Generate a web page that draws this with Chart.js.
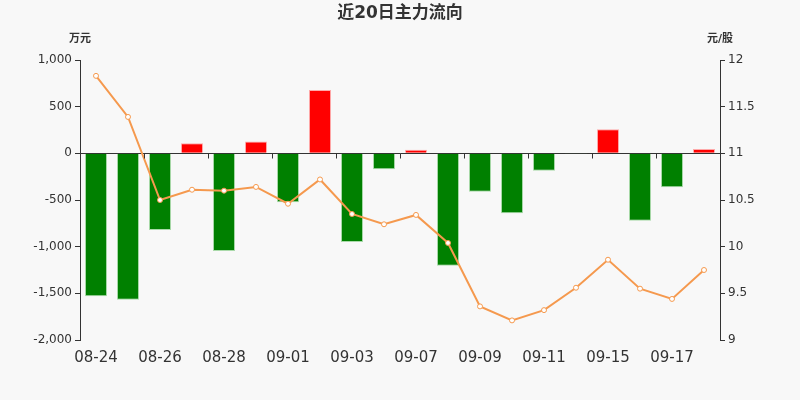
<!DOCTYPE html>
<html>
<head>
<meta charset="utf-8">
<script src="https://cdn.jsdelivr.net/npm/chart.js@4/dist/chart.umd.min.js"></script>
<style>
html,body{margin:0;padding:0;background:#f8f8f8;}
#wrap{width:800px;height:400px;}
</style>
</head>
<body>
<div id="wrap"><canvas id="chart" width="800" height="400"></canvas></div>
<script>
//=============================
// DATA
//=============================

const dates = [
"08-24","08-25","08-26","08-27","08-28","08-31","09-01","09-02","09-03","09-04",
"09-07","09-08","09-09","09-10","09-11","09-14","09-15","09-16","09-17","09-18"
];

// main net inflow, 万元
const flow = [
-1530,-1570,-822,107,-1047,128,-525,678,-950,-171,
39,-1204,-411,-643,-186,-3,257,-722,-364,46
];

// close price, 元/股
const price = [
11.83,11.39,10.50,10.61,10.60,10.64,10.46,10.72,10.35,10.24,
10.34,10.04,9.36,9.21,9.32,9.56,9.86,9.55,9.44,9.75
];

const leftTicks = [-2000,-1500,-1000,-500,0,500,1000];
const rightTicks = [9,9.5,10,10.5,11,11.5,12];

const FONT = "'DejaVu Sans','Noto Sans CJK SC',sans-serif";
const AXIS = "#333";

//=============================
// EXTRA DRAWING
//=============================

const decor = {
    id:"decor",
    afterDraw(chart){
        const c = chart.ctx;
        const x = chart.scales.x;
        const y = chart.scales.y;
        const area = chart.chartArea;

        c.save();

        // title
        c.fillStyle = AXIS;
        c.font = "bold 17px " + FONT;
        c.textAlign = "center";
        c.textBaseline = "middle";
        c.fillText("近20日主力流向", 400, 14);

        // units
        c.font = "bold 11px " + FONT;
        c.fillText("万元", area.left, 39);
        c.fillText("元/股", area.right, 39);

        // small ticks on the zero line
        const y0 = Math.round(y.getPixelForValue(0)) + 0.5;
        c.strokeStyle = AXIS;
        c.lineWidth = 1;
        for(let i=2;i<dates.length;i+=2){
            const px = Math.round((x.getPixelForValue(i-1)+x.getPixelForValue(i))/2)+0.5;
            c.beginPath();
            c.moveTo(px,y0);
            c.lineTo(px,y0+5);
            c.stroke();
        }

        c.restore();
    }
};

//=============================
// CHART
//=============================

new Chart(document.getElementById("chart"),{

    data:{
        labels:dates,
        datasets:[
            {
                type:"line",
                label:"价格",
                data:price,
                yAxisID:"y1",
                borderColor:"#f5994e",
                borderWidth:2,
                pointRadius:2.5,
                pointBorderWidth:1,
                pointBackgroundColor:"#ffffff",
                pointBorderColor:"#f5994e",
                tension:0,
                order:0
            },
            {
                type:"bar",
                label:"主力流向",
                data:flow,
                yAxisID:"y",
                backgroundColor:flow.map(v => v >= 0 ? "#ff0000" : "#008000"),
                borderColor:flow.map(v => v >= 0 ? "rgba(255,150,150,0.8)" : "rgba(150,210,150,0.8)"),
                borderWidth:1,
                borderSkipped:"start",
                categoryPercentage:1,
                barPercentage:0.69,
                order:1
            }
        ]
    },

    options:{
        responsive:false,
        animation:false,
        layout:{padding:{top:60,left:0,right:0,bottom:0}},
        plugins:{
            legend:{display:false},
            tooltip:{enabled:false}
        },
        scales:{
            x:{
                grid:{display:false},
                border:{display:false},
                ticks:{
                    autoSkip:false,
                    maxRotation:0,
                    padding:1,
                    color:AXIS,
                    font:{family:FONT,size:15},
                    callback:(v,i) => i % 2 === 0 ? dates[i] : ""
                },
                afterFit:s => { s.height = 60; }
            },
            y:{
                position:"left",
                min:-2000,
                max:1000,
                afterBuildTicks:s => { s.ticks = leftTicks.map(v => ({value:v})); },
                grid:{
                    color:ctx => ctx.tick && ctx.tick.value === 0 ? AXIS : "rgba(0,0,0,0)",
                    tickColor:AXIS,
                    tickLength:5
                },
                border:{color:AXIS},
                ticks:{
                    color:AXIS,
                    padding:3,
                    font:{family:FONT,size:12},
                    callback:v => v.toLocaleString("en-US")
                },
                afterFit:s => { s.width = 80; }
            },
            y1:{
                position:"right",
                min:9,
                max:12,
                afterBuildTicks:s => { s.ticks = rightTicks.map(v => ({value:v})); },
                grid:{drawOnChartArea:false, tickColor:AXIS, tickLength:5},
                border:{color:AXIS},
                ticks:{
                    color:AXIS,
                    padding:3,
                    font:{family:FONT,size:12},
                    callback:v => String(v)
                },
                afterFit:s => { s.width = 80; }
            }
        }
    },

    plugins:[decor]

});
</script>
</body>
</html>
